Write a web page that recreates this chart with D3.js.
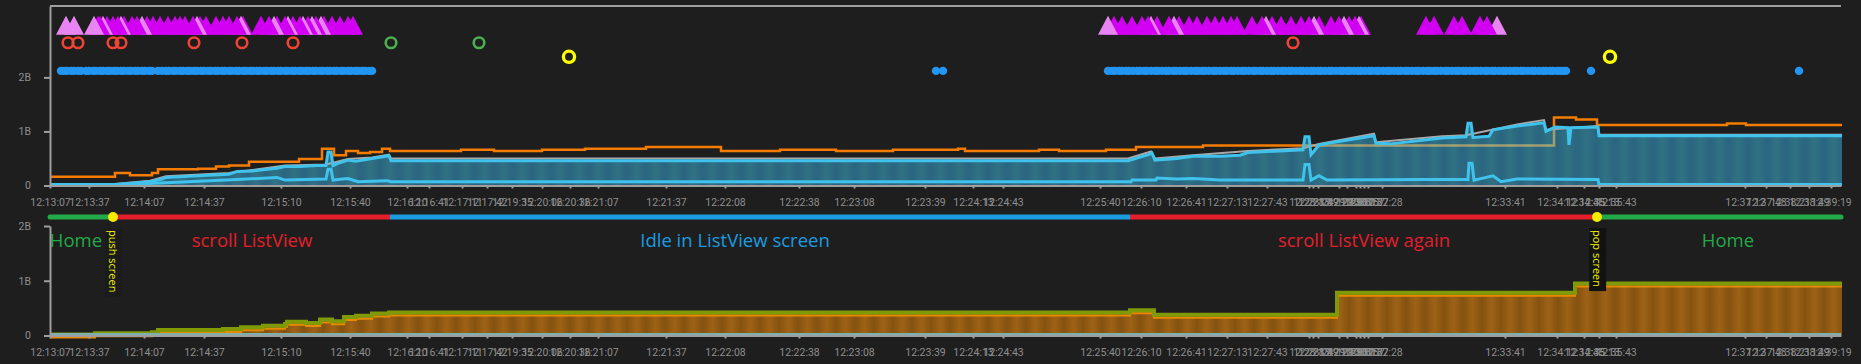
<!DOCTYPE html>
<meta charset="utf-8">
<head>
<script type="text/javascript" src="https://cdn.jsdelivr.net/npm/d3@7"></script>
<style>
    body { margin: 0; background: #1e1e1e; }
    svg { display: block; }
    .axis text { fill: #8e8e8e; font-family: Roboto, sans-serif; font-size: 10.5px; }
    .axis path, .axis line { stroke: #9e9e9e; stroke-width: 2; }
</style>
<title></title>
</head>
<body>
<script>

    var width = 1861
    var height = 364

    // x = sample index of the profile, y values in billions of bytes

    var tickIndex = [0, 39, 94, 154, 231, 300, 357, 379, 412, 437, 462, 492, 520, 548, 616, 675, 749, 804, 875, 923, 953,
        1050, 1091, 1136, 1177, 1217, 1259, 1263, 1268, 1289, 1297, 1306, 1310, 1314, 1318, 1332, 1455, 1507, 1534, 1549, 1566,
        1695, 1716, 1740, 1759, 1781]
    var tickLabels = ["12:13:07", "12:13:37", "12:14:07", "12:14:37", "12:15:10", "12:15:40", "12:16:10", "12:16:41", "12:17:11",
        "12:17:42", "12:19:35", "12:20:06", "12:20:36", "12:21:07", "12:21:37", "12:22:08", "12:22:38", "12:23:08", "12:23:39",
        "12:24:13", "12:24:43", "12:25:40", "12:26:10", "12:26:41", "12:27:13", "12:27:43", "12:28:13", "12:28:24", "12:28:49",
        "12:29:20", "12:29:36", "12:29:51", "12:30:07", "12:30:57", "12:31:27", "12:32:28", "12:33:41", "12:34:12", "12:34:45",
        "12:35:13", "12:35:43", "12:37:12", "12:37:48", "12:38:21", "12:38:49", "12:39:19"]

    var rss = [[0, 0.16], [65, 0.23], [80, 0.19], [102, 0.23], [108, 0.30], [148, 0.31], [166, 0.35], [179, 0.37], [199, 0.44],
        [227, 0.44], [249, 0.49], [272, 0.68], [284, 0.56], [296, 0.64], [308, 0.60], [320, 0.62], [332, 0.68], [340, 0.64],
        [373, 0.64], [411, 0.66], [444, 0.64], [492, 0.66], [535, 0.68], [596, 0.71], [671, 0.64], [730, 0.66], [786, 0.64],
        [843, 0.66], [908, 0.68], [915, 0.64], [989, 0.66], [1009, 0.64], [1056, 0.66], [1086, 0.71], [1153, 0.74],
        [1504, 1.26], [1526, 1.22], [1547, 1.12], [1677, 1.145], [1696, 1.12], [1792, 1.12]]

    var capacity = [[0, 0.03], [65, 0.03], [100, 0.09], [116, 0.17], [179, 0.23], [235, 0.37], [276, 0.39], [298, 0.49],
        [322, 0.52], [339, 0.57], [341, 0.50], [1078, 0.50], [1101, 0.63], [1105, 0.50], [1143, 0.56], [1198, 0.64],
        [1253, 0.69], [1269, 0.77], [1324, 0.96], [1326, 0.80], [1392, 0.91], [1416, 0.93], [1467, 1.13], [1494, 1.21],
        [1496, 1.03], [1548, 1.10], [1549, 0.94], [1792, 0.94]]

    var used = [[0, 0.02], [65, 0.02], [100, 0.07], [112, 0.12], [116, 0.15], [148, 0.18], [179, 0.21], [187, 0.26],
        [203, 0.27], [227, 0.32], [235, 0.35], [250, 0.35], [266, 0.37], [276, 0.37], [278, 0.62], [281, 0.62], [283, 0.37],
        [288, 0.41], [298, 0.47], [306, 0.45], [322, 0.50], [339, 0.55], [341, 0.46], [1078, 0.46], [1100, 0.58],
        [1102, 0.60], [1105, 0.47], [1127, 0.50], [1143, 0.54], [1170, 0.54], [1190, 0.56], [1198, 0.61], [1253, 0.66],
        [1255, 0.90], [1259, 0.90], [1261, 0.57], [1269, 0.75], [1281, 0.79], [1324, 0.92], [1326, 0.78], [1340, 0.77],
        [1392, 0.88], [1416, 0.90], [1418, 1.15], [1421, 1.15], [1423, 0.89], [1439, 0.91], [1443, 1.03], [1467, 1.10],
        [1494, 1.16], [1496, 1.00], [1505, 1.08], [1518, 1.07], [1519, 0.75], [1521, 1.07], [1548, 1.08], [1549, 0.92],
        [1792, 0.92]]

    var external = [[0, 0.01], [65, 0.01], [116, 0.05], [187, 0.11], [227, 0.15], [235, 0.10], [276, 0.12], [278, 0.30],
        [281, 0.30], [283, 0.10], [288, 0.11], [298, 0.13], [308, 0.07], [337, 0.09], [341, 0.07], [1081, 0.07],
        [1082, 0.10], [1106, 0.10], [1107, 0.14], [1127, 0.12], [1143, 0.13], [1170, 0.10], [1253, 0.10], [1255, 0.39],
        [1259, 0.39], [1261, 0.10], [1269, 0.18], [1277, 0.10], [1372, 0.11], [1418, 0.11], [1419, 0.41], [1422, 0.41],
        [1424, 0.10], [1443, 0.18], [1451, 0.07], [1467, 0.12], [1548, 0.11], [1549, 0.02], [1792, 0.02]]

    var androidTotal = [[0, 0.02], [45, 0.04], [102, 0.06], [108, 0.10], [124, 0.10], [173, 0.12], [191, 0.15], [213, 0.18],
        [235, 0.21], [237, 0.25], [256, 0.23], [270, 0.29], [282, 0.26], [294, 0.34], [306, 0.36], [322, 0.40], [339, 0.42],
        [1080, 0.46], [1104, 0.38], [1287, 0.78], [1525, 0.95], [1792, 0.95]]

    // GC events: index and whether it was a user triggered one (light)
    var gcIndex = [16, 24, 44, 48, 50, 53, 57, 63, 68, 71, 74, 82, 87, 92, 97, 103, 110, 118, 125, 130, 135, 143, 147, 150,
        156, 166, 173, 179, 187, 191, 193, 211, 219, 224, 227, 235, 238, 243, 250, 253, 258, 262, 266, 271, 274, 282, 290,
        298, 303,
        1058, 1064, 1072, 1082, 1092, 1098, 1101, 1107, 1119, 1124, 1129, 1139, 1147, 1157, 1165, 1173, 1181, 1187, 1202,
        1212, 1216, 1222, 1231, 1241, 1251, 1259, 1264, 1269, 1281, 1289, 1294, 1299, 1305, 1309, 1311,
        1376, 1384, 1404, 1412, 1430, 1437, 1447]
    var gcUser = [1, 1, 1, 0, 0, 1, 0, 0, 0, 1, 0, 0, 0, 1, 0, 0, 0, 0, 0, 0, 0, 0, 1, 0,
        0, 0, 0, 0, 0, 1, 0, 0, 0, 1, 0, 0, 1, 0, 0, 1, 0, 1, 0, 1, 0, 0, 0,
        0, 0,
        1, 0, 0, 0, 0, 0, 1, 0, 0, 1, 0, 0, 0, 0, 0, 0, 0, 0, 0,
        0, 1, 0, 0, 0, 0, 0, 1, 0, 0, 0, 1, 0, 0, 1, 0,
        0, 0, 0, 0, 0, 0, 1]

    var resetIndex = [18, 28, 63, 71, 144, 192, 243, 1243]
    var snapshotIndex = [341, 429]
    var autoSnapshotIndex = [519, 1560]
    var monitorIndex = [11, 14, 17, 21, 24, 28, 31, 36, 39, 43, 46, 50, 53, 57, 60, 64, 67, 71, 74, 78, 81, 85, 88, 92, 95,
        99, 102, 108, 112, 116, 119, 123, 126, 130, 133, 137, 140, 144, 147, 151, 154, 158, 161, 165, 168, 172, 175, 179, 182,
        186, 189, 193, 196, 200, 203, 207, 210, 214, 217, 221, 224, 228, 231, 235, 238, 242, 245, 249, 252, 256, 259, 263,
        266, 270, 273, 277, 280, 284, 287, 291, 294, 298, 301, 305, 308, 312, 315, 319, 322,
        886, 893,
        1058, 1062, 1065, 1069, 1072, 1076, 1079, 1083, 1087, 1090, 1094, 1097, 1101, 1105, 1108, 1112, 1116, 1119, 1123,
        1126, 1130, 1134, 1137, 1141, 1145, 1148, 1152, 1155, 1159, 1163, 1166, 1170, 1174, 1177, 1181, 1184, 1188, 1192,
        1195, 1199, 1203, 1206, 1210, 1213, 1217, 1221, 1224, 1228, 1232, 1235, 1239, 1242, 1246, 1250, 1253, 1257, 1261,
        1264, 1268, 1271, 1275, 1279, 1282, 1286, 1290, 1293, 1297, 1300, 1304, 1308, 1311, 1315, 1319, 1322, 1326, 1329,
        1333, 1337, 1340, 1344, 1348, 1351, 1355, 1358, 1362, 1366, 1369, 1373, 1377, 1380, 1384, 1387, 1391, 1395, 1398,
        1402, 1406, 1409, 1413, 1416, 1420, 1424, 1427, 1431, 1435, 1438, 1442, 1445, 1449, 1453, 1456, 1460, 1464, 1467,
        1471, 1474, 1478, 1482, 1485, 1489, 1493, 1496, 1500, 1503, 1507, 1510, 1513, 1516,
        1541, 1749]

    var phaseNames = ["Home", "scroll ListView", "Idle in ListView screen", "scroll ListView again", "Home"]
    var phaseStart = [0, 63, 340, 1080, 1547]
    var phaseEnd = [63, 340, 1080, 1547, 1791]
    var phaseLabelAt = [26, 202, 685, 1314, 1678]
    var screenEventIndex = [63, 1547]
    var screenEventNames = ["push screen", "pop screen"]

    var phaseColors = ["#22aa48", "#e41f2b", "#1a9ce0", "#e41f2b", "#22aa48"]

    var svg = d3.select("body").append("svg")
        .attr("width", width)
        .attr("height", height)
        .style("background", "#1e1e1e")

    var x = d3.scaleLinear().domain([0, 1791]).range([50, 1841])
    var yTop = d3.scaleLinear().domain([0, 3.32]).range([185.5, 6])
    var yBot = d3.scaleLinear().domain([0, 2]).range([335.5, 226])

    // striped fills
    var defs = svg.append("defs")
    function stripes(id, a, b, w) {
        var g = defs.append("linearGradient").attr("id", id + "g")
        g.append("stop").attr("offset", "0%").attr("stop-color", a)
        g.append("stop").attr("offset", "50%").attr("stop-color", b)
        g.append("stop").attr("offset", "100%").attr("stop-color", a)
        defs.append("pattern").attr("id", id)
            .attr("patternUnits", "userSpaceOnUse")
            .attr("width", w).attr("height", 20)
            .append("rect").attr("width", w).attr("height", 20)
            .attr("fill", "url(#" + id + "g)")
    }
    stripes("blueStripe", "#39bcf8", "#46d6ff", 19)
    stripes("brownStripe", "#85520f", "#9e6216", 19)

    // ---------- top chart ----------
    var topG = svg.append("g")

    topG.append("path")
        .datum(rss)
        .attr("fill", "none")
        .attr("stroke", "#f57c00")
        .attr("stroke-width", 2.5)
        .attr("d", d3.line().x(d => x(d[0])).y(d => yTop(d[1])).curve(d3.curveStepAfter))

    topG.append("path")
        .datum(used)
        .attr("fill", "url(#blueStripe)")
        .attr("fill-opacity", 0.45)
        .attr("d", d3.area().x(d => x(d[0])).y0(yTop(0)).y1(d => yTop(d[1])))

    topG.append("path")
        .datum(capacity)
        .attr("fill", "none")
        .attr("stroke", "#a8a8a8")
        .attr("stroke-width", 2)
        .attr("d", d3.line().x(d => x(d[0])).y(d => yTop(d[1])))

    var cyanLine = d3.line().x(d => x(d[0])).y(d => yTop(d[1]))
    topG.append("path")
        .datum(used)
        .attr("fill", "none")
        .attr("stroke", "#3fc2ec")
        .attr("stroke-width", 3)
        .attr("d", cyanLine)

    topG.append("path")
        .datum(external)
        .attr("fill", "none")
        .attr("stroke", "#3fc2ec")
        .attr("stroke-width", 3)
        .attr("d", cyanLine)

    // axes of top chart
    topG.append("line")
        .attr("x1", x(0)).attr("x2", x(1791))
        .attr("y1", yTop(3.32)).attr("y2", yTop(3.32))
        .attr("stroke", "#9e9e9e").attr("stroke-width", 2)

    topG.append("g").attr("class", "axis")
        .attr("transform", "translate(0," + yTop(0) + ")")
        .call(d3.axisBottom(x).tickValues(tickIndex).tickFormat((d, i) => tickLabels[i])
            .tickSize(3).tickSizeOuter(0).tickPadding(10))

    topG.append("g").attr("class", "axis")
        .attr("transform", "translate(" + x(0) + ",0)")
        .call(d3.axisLeft(yTop).tickValues([0, 1, 2]).tickFormat(d => d ? d + "B" : "0")
            .tickSize(6).tickSizeOuter(0).tickPadding(13))

    // event rows
    var gcBase = yTop(2.79), gcApex = yTop(3.14)
    var gc = gcIndex.map((d, i) => ({ i: d, user: gcUser[i] })).reverse()
    topG.append("g").selectAll("path")
        .data(gc)
        .enter()
        .append("path")
        .attr("d", d => "M" + (x(d.i) - 10) + "," + gcBase + "L" + x(d.i) + "," + gcApex + "L" + (x(d.i) + 10) + "," + gcBase + "Z")
        .attr("fill", d => d.user ? "#e985f2" : "#d200f2")

    function rings(data, level, color, r, w) {
        topG.append("g").selectAll("circle")
            .data(data)
            .enter()
            .append("circle")
            .attr("cx", d => x(d))
            .attr("cy", yTop(level))
            .attr("r", r)
            .attr("fill", "none")
            .attr("stroke", color)
            .attr("stroke-width", w)
    }
    rings(resetIndex, 2.64, "#ef4434", 5.3, 2.6)
    rings(snapshotIndex, 2.64, "#4caf50", 5.3, 2.6)
    rings(autoSnapshotIndex, 2.38, "#ffff00", 5.6, 3.3)

    topG.append("g").selectAll("circle")
        .data(monitorIndex)
        .enter()
        .append("circle")
        .attr("cx", d => x(d))
        .attr("cy", yTop(2.12))
        .attr("r", 4.2)
        .attr("fill", "#2196f3")

    // ---------- phase timeline ----------
    var tl = svg.append("g")
    var barY = 217
    tl.selectAll("line")
        .data(phaseNames)
        .enter()
        .append("line")
        .attr("x1", (d, i) => x(phaseStart[i]))
        .attr("x2", (d, i) => x(phaseEnd[i]))
        .attr("y1", barY).attr("y2", barY)
        .attr("stroke", (d, i) => phaseColors[i])
        .attr("stroke-width", 5)
        .attr("stroke-linecap", (d, i) => (i == 0 || i == phaseNames.length - 1) ? "round" : "butt")

    tl.selectAll("text.phase")
        .data(phaseNames)
        .enter()
        .append("text")
        .attr("class", "phase")
        .attr("x", (d, i) => x(phaseLabelAt[i]))
        .attr("y", 247)
        .attr("text-anchor", "middle")
        .attr("fill", (d, i) => phaseColors[i])
        .style("font-family", "'Open Sans', 'Noto Sans', sans-serif")
        .style("font-size", "18.5px")
        .text(d => d)

    // ---------- bottom chart ----------
    var bot = svg.append("g")

    bot.append("path")
        .datum(androidTotal)
        .attr("fill", "url(#brownStripe)")
        .attr("d", d3.area().x(d => x(d[0])).y0(yBot(0)).y1(d => yBot(d[1])).curve(d3.curveStepAfter))

    var botLine = d3.line().x(d => x(d[0])).y(d => yBot(d[1])).curve(d3.curveStepAfter)
    bot.append("path")
        .datum(androidTotal)
        .attr("transform", "translate(0,3)")
        .attr("fill", "none")
        .attr("stroke", "#e88a00")
        .attr("stroke-width", 2)
        .attr("d", botLine)
    bot.append("path")
        .datum(androidTotal)
        .attr("fill", "none")
        .attr("stroke", "#7f9a06")
        .attr("stroke-width", 4)
        .attr("d", botLine)

    bot.append("g").attr("class", "axis")
        .attr("transform", "translate(0," + yBot(0) + ")")
        .call(d3.axisBottom(x).tickValues(tickIndex).tickFormat((d, i) => tickLabels[i])
            .tickSize(3).tickSizeOuter(0).tickPadding(10))

    bot.append("line")
        .attr("x1", x(0)).attr("x2", x(1791))
        .attr("y1", yBot(0) - 1.5).attr("y2", yBot(0) - 1.5)
        .attr("stroke", "#7fb0b0").attr("stroke-width", 2)

    bot.append("g").attr("class", "axis")
        .attr("transform", "translate(" + x(0) + ",0)")
        .call(d3.axisLeft(yBot).tickValues([0, 1, 2]).tickFormat(d => d ? d + "B" : "0")
            .tickSize(6).tickSizeOuter(0).tickPadding(13))

    // screen push / pop markers
    screenEventIndex.forEach(function (d, i) {
        var g = svg.append("g").attr("transform", "translate(" + x(d) + "," + (barY + 13) + ") rotate(90)")
        var t = g.append("text")
            .attr("dy", "0.35em")
            .attr("fill", "#f2f200")
            .style("font-family", "'Open Sans', 'Noto Sans', sans-serif")
            .style("font-size", "11px")
            .text(screenEventNames[i])
        var b = t.node().getBBox()
        g.insert("rect", "text")
            .attr("x", b.x - 2).attr("y", b.y - 1)
            .attr("width", b.width + 6).attr("height", b.height + 2)
            .attr("fill", i ? "#121212" : "#1b1b1b")
        svg.append("circle")
            .attr("cx", x(d)).attr("cy", barY)
            .attr("r", 5)
            .attr("fill", "#f5ec00")
    })

</script>
</body>
</html>
